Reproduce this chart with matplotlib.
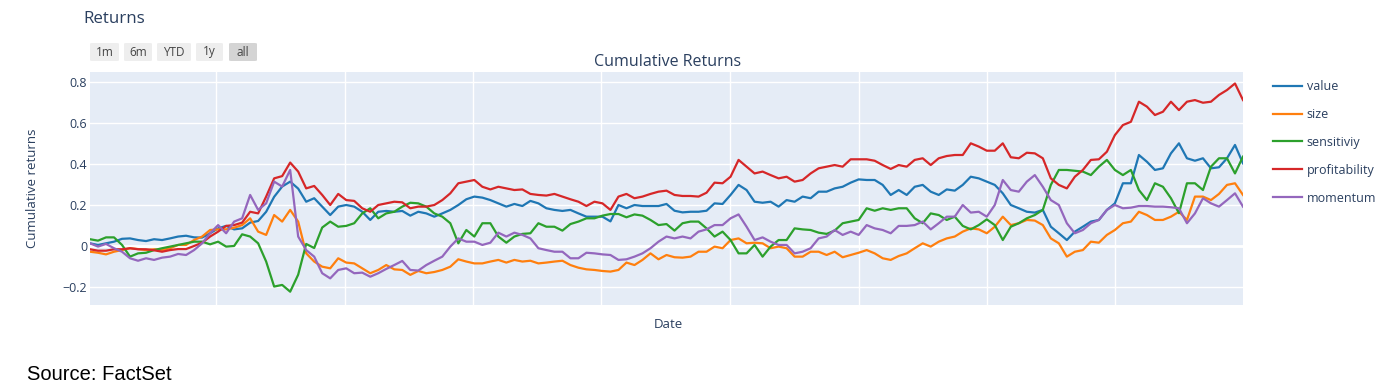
import matplotlib
matplotlib.use("Agg")
import matplotlib.pyplot as plt
import matplotlib.dates as mdates
from matplotlib.patches import FancyBboxPatch
from matplotlib.ticker import FuncFormatter
import pandas as pd

# cumulative returns (one value every ~3 weeks)
value = [0.013, 0.005, 0.013, 0.021, 0.035, 0.037, 0.029, 0.024, 0.033, 0.029, 0.037, 0.046, 0.05, 0.042, 0.041,
         0.062, 0.086, 0.098, 0.081, 0.086, 0.114, 0.122, 0.167, 0.24, 0.29, 0.314, 0.28, 0.216, 0.233,
         0.192, 0.151, 0.192, 0.2, 0.192, 0.167, 0.127, 0.167, 0.171, 0.167, 0.171, 0.148, 0.167, 0.159, 0.143,
         0.159, 0.176, 0.2, 0.228, 0.241, 0.236, 0.224, 0.208, 0.192, 0.205, 0.195, 0.22, 0.208, 0.184,
         0.176, 0.171, 0.176, 0.159, 0.143, 0.143, 0.143, 0.12, 0.2, 0.184, 0.2, 0.195, 0.195, 0.195, 0.205,
         0.172, 0.164, 0.167, 0.167, 0.172, 0.208, 0.205, 0.249, 0.298, 0.273, 0.216, 0.211, 0.216, 0.192,
         0.224, 0.216, 0.241, 0.233, 0.265, 0.265, 0.281, 0.289, 0.309, 0.325, 0.322, 0.322, 0.298, 0.249, 0.273,
         0.249, 0.289, 0.298, 0.265, 0.249, 0.276, 0.27, 0.298, 0.338, 0.33, 0.314, 0.298, 0.257, 0.2,
         0.184, 0.167, 0.163, 0.176, 0.094, 0.062, 0.029, 0.07, 0.094, 0.119, 0.127, 0.176, 0.208, 0.306, 0.306,
         0.444, 0.411, 0.371, 0.379, 0.452, 0.501, 0.428, 0.416, 0.428, 0.379, 0.384, 0.428, 0.493, 0.403]
size = [-0.028, -0.033, -0.041, -0.028, -0.02, -0.011, -0.015, -0.02, -0.016, -0.02, -0.011, 0.005, 0.005, 0.029, 0.046,
        0.078, 0.081, 0.081, 0.089, 0.102, 0.135, 0.07, 0.054, 0.151, 0.119, 0.176, 0.119, -0.036, -0.076,
        -0.101, -0.109, -0.06, -0.081, -0.085, -0.109, -0.133, -0.117, -0.093, -0.114, -0.117, -0.141, -0.122, -0.133, -0.127,
        -0.117, -0.101, -0.065, -0.076, -0.085, -0.085, -0.076, -0.068, -0.081, -0.068, -0.076, -0.072, -0.085, -0.081,
        -0.076, -0.072, -0.093, -0.106, -0.114, -0.117, -0.122, -0.125, -0.117, -0.081, -0.093, -0.068, -0.036, -0.065, -0.044,
        -0.055, -0.057, -0.052, -0.028, -0.028, -0.003, -0.011, 0.029, 0.037, 0.013, 0.016, 0.013, -0.011, -0.003,
        -0.011, -0.052, -0.052, -0.028, -0.028, -0.044, -0.028, -0.055, -0.044, -0.033, -0.02, -0.036, -0.06, -0.068, -0.049,
        -0.036, -0.011, 0.013, -0.003, 0.021, 0.037, 0.046, 0.07, 0.086, 0.081, 0.062, 0.094, 0.143, 0.102,
        0.111, 0.127, 0.124, 0.102, 0.037, 0.013, -0.052, -0.028, -0.02, 0.021, 0.016, 0.054, 0.078, 0.111, 0.119,
        0.167, 0.151, 0.127, 0.127, 0.143, 0.167, 0.127, 0.241, 0.241, 0.224, 0.254, 0.298, 0.306, 0.249]
sensitivity = [0.033, 0.026, 0.042, 0.042, 0.005, -0.052, -0.036, -0.033, -0.02, -0.011, -0.003, 0.005, 0.013, 0.021, 0.021,
               0.008, 0.021, -0.003, 0.0, 0.057, 0.046, 0.013, -0.076, -0.198, -0.19, -0.223, -0.14, 0.01, -0.01,
               0.09, 0.119, 0.094, 0.098, 0.111, 0.159, 0.184, 0.135, 0.159, 0.167, 0.192, 0.211, 0.208, 0.192, 0.159,
               0.143, 0.111, 0.013, 0.078, 0.046, 0.111, 0.111, 0.046, 0.016, 0.046, 0.059, 0.062, 0.111, 0.094,
               0.094, 0.075, 0.107, 0.119, 0.135, 0.135, 0.148, 0.156, 0.156, 0.14, 0.154, 0.148, 0.127, 0.102, 0.107,
               0.075, 0.111, 0.119, 0.119, 0.086, 0.046, 0.07, 0.029, -0.036, -0.036, 0.005, -0.052, -0.003, 0.029,
               0.029, 0.086, 0.081, 0.078, 0.065, 0.059, 0.075, 0.111, 0.119, 0.127, 0.184, 0.172, 0.184, 0.176, 0.184,
               0.184, 0.135, 0.111, 0.159, 0.151, 0.127, 0.143, 0.098, 0.081, 0.102, 0.13, 0.102, 0.029, 0.094,
               0.111, 0.135, 0.151, 0.176, 0.298, 0.371, 0.371, 0.367, 0.363, 0.346, 0.387, 0.42, 0.371, 0.346, 0.371,
               0.273, 0.224, 0.306, 0.289, 0.233, 0.16, 0.306, 0.306, 0.273, 0.387, 0.428, 0.428, 0.354, 0.436]
profitability = [-0.016, -0.023, -0.023, -0.016, -0.016, -0.011, -0.016, -0.016, -0.021, -0.028, -0.02, -0.015, -0.015, 0.0, 0.016,
                 0.046, 0.07, 0.098, 0.102, 0.114, 0.167, 0.159, 0.241, 0.33, 0.341, 0.407, 0.363, 0.281, 0.293,
                 0.249, 0.2, 0.254, 0.224, 0.22, 0.184, 0.167, 0.2, 0.208, 0.216, 0.213, 0.184, 0.192, 0.192, 0.2,
                 0.224, 0.257, 0.306, 0.314, 0.322, 0.289, 0.276, 0.289, 0.281, 0.273, 0.276, 0.254, 0.249, 0.246,
                 0.254, 0.241, 0.228, 0.216, 0.195, 0.216, 0.208, 0.176, 0.241, 0.254, 0.233, 0.241, 0.254, 0.265, 0.27,
                 0.249, 0.244, 0.244, 0.241, 0.26, 0.309, 0.306, 0.338, 0.42, 0.387, 0.354, 0.363, 0.346, 0.33,
                 0.338, 0.314, 0.322, 0.354, 0.379, 0.387, 0.395, 0.387, 0.423, 0.423, 0.423, 0.416, 0.395, 0.376, 0.395,
                 0.387, 0.42, 0.428, 0.395, 0.428, 0.439, 0.444, 0.444, 0.501, 0.485, 0.465, 0.465, 0.501, 0.433,
                 0.428, 0.455, 0.452, 0.428, 0.33, 0.298, 0.281, 0.338, 0.371, 0.42, 0.423, 0.46, 0.541, 0.59, 0.606,
                 0.704, 0.68, 0.639, 0.655, 0.704, 0.663, 0.704, 0.712, 0.699, 0.704, 0.737, 0.761, 0.793, 0.712]
momentum = [0.013, -0.003, 0.01, -0.011, -0.028, -0.06, -0.072, -0.06, -0.068, -0.057, -0.052, -0.039, -0.044, -0.02, 0.013,
            0.062, 0.102, 0.062, 0.119, 0.135, 0.249, 0.176, 0.208, 0.314, 0.29, 0.371, 0.046, -0.02, -0.052,
            -0.133, -0.158, -0.117, -0.109, -0.133, -0.13, -0.15, -0.133, -0.112, -0.093, -0.073, -0.117, -0.12, -0.093, -0.072,
            -0.052, -0.003, 0.037, 0.021, 0.021, 0.005, 0.016, 0.065, 0.046, 0.065, 0.054, 0.037, -0.011, -0.02,
            -0.028, -0.028, -0.06, -0.06, -0.033, -0.036, -0.041, -0.044, -0.068, -0.065, -0.052, -0.036, -0.011, 0.021, 0.046,
            0.037, 0.046, 0.037, 0.07, 0.081, 0.102, 0.102, 0.135, 0.154, 0.094, 0.029, 0.042, 0.021, 0.005,
            0.005, -0.036, -0.028, -0.011, 0.037, 0.046, 0.078, 0.054, 0.07, 0.054, 0.102, 0.086, 0.078, 0.062, 0.098,
            0.098, 0.102, 0.119, 0.081, 0.111, 0.143, 0.143, 0.2, 0.163, 0.167, 0.143, 0.2, 0.322, 0.273,
            0.265, 0.314, 0.346, 0.289, 0.224, 0.2, 0.111, 0.062, 0.078, 0.111, 0.127, 0.176, 0.2, 0.184, 0.187,
            0.195, 0.195, 0.192, 0.192, 0.189, 0.184, 0.111, 0.159, 0.233, 0.208, 0.192, 0.224, 0.257, 0.192]

series_names = ['value', 'size', 'sensitiviy', 'profitability', 'momentum']
series_data = [value, size, sensitivity, profitability, momentum]
colors = ['#1f77b4', '#ff7f0e', '#2ca02c', '#d62728', '#9467bd']
buttons = ['1m', '6m', 'YTD', '1y', 'all']

dates = pd.date_range('2012-01-08', '2020-12-29', periods=len(value))

W, H = 1394, 391
txt = '#2a3f5f'
plt.rcParams['font.family'] = ['Open Sans', 'DejaVu Sans']

fig = plt.figure(figsize=(W / 100, H / 100), dpi=100)
ax = fig.add_axes([90 / W, 1 - 305 / H, 1153 / W, 233 / H])
ax.set_facecolor('#e5ecf6')

for name, ys, c in zip(series_names, series_data, colors):
    ax.plot(dates, ys, color=c, lw=1.6, label=name, zorder=3)

ax.axhline(0, color='white', lw=2, zorder=1.5)
ax.set_xlim(dates[0], dates[-1])
ax.set_ylim(-0.288, 0.849)
ax.set_yticks([-0.2, 0, 0.2, 0.4, 0.6, 0.8])
ax.yaxis.set_major_formatter(FuncFormatter(lambda v, p: '0' if abs(v) < 1e-9 else f'{v:g}'.replace('-', '\u2212')))
ax.xaxis.set_major_locator(mdates.YearLocator())
ax.set_xticklabels([])
ax.tick_params(axis='both', length=0, labelsize=9, labelcolor=txt, pad=2)
ax.grid(True, color='white', lw=1.0)
ax.set_axisbelow(True)
for s in ax.spines.values():
    s.set_visible(False)

# titles and labels
fig.text(83 / W, 1 - 19 / H, 'Returns', fontsize=12.2, color=txt, ha='left', va='center')
fig.text(668 / W, 1 - 62 / H, 'Cumulative Returns', fontsize=11.5, color=txt, ha='center', va='center')
fig.text(33 / W, 1 - 188 / H, 'Cumulative returns', fontsize=9.5, color=txt, rotation=90, ha='center', va='center')
fig.text(668 / W, 1 - 325 / H, 'Date', fontsize=9.5, color=txt, ha='center', va='center')
fig.text(27 / W, 1 - 375 / H, 'Source: FactSet', fontsize=14.5, color='black', ha='left', va='center',
         family='Liberation Sans')

# range selector buttons
bx = [(90, 119), (124, 152), (157, 191), (196, 223), (229, 257)]
for (x0, x1), lab in zip(bx, buttons):
    fc = '#d4d4d4' if lab == 'all' else '#eeeeee'
    fig.patches.append(FancyBboxPatch((x0 / W, 1 - 61 / H), (x1 - x0) / W, 18 / H,
                                      boxstyle='round,pad=0,rounding_size=0.002', transform=fig.transFigure,
                                      fc=fc, ec='none'))
    fig.text((x0 + x1) / 2 / W, 1 - 52 / H, lab, fontsize=8.5, color='#444444', ha='center', va='center')

fig.legend(loc='upper left', bbox_to_anchor=(1273 / W, 1 - 80 / H), bbox_transform=fig.transFigure,
           frameon=False, fontsize=9, handlelength=2.3, handletextpad=0.4, labelspacing=1.19,
           borderpad=0, borderaxespad=0, labelcolor=txt)

fig.savefig('out.png', dpi=100)
